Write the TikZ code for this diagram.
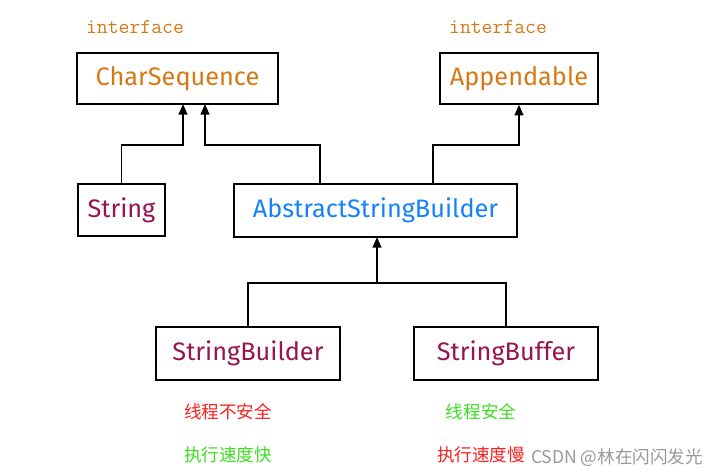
\documentclass[tikz,border=0pt]{standalone}
\usepackage{fontspec}
\setmainfont{Fira Sans}
\newfontfamily\cjk{Noto Sans CJK SC}
\usetikzlibrary{arrows.meta}
\definecolor{ifcolor}{RGB}{214,120,20}
\definecolor{clscolor}{RGB}{150,20,80}
\definecolor{abscolor}{RGB}{20,130,250}
\definecolor{badred}{RGB}{250,30,30}
\definecolor{goodgreen}{RGB}{60,220,30}
\begin{document}
\begin{tikzpicture}[x=0.02cm,y=-0.02cm,
  box/.style={draw=black, line width=0.9pt, inner sep=0pt, font=\Large},
  link/.style={line width=0.9pt},
  up/.style={link, -{Triangle[length=6pt,width=5pt]}},
  note/.style={font=\cjk\normalsize}]
\useasboundingbox (0,0) rectangle (724,476);
\node[text=ifcolor, font=\large\ttfamily] (if1) at (135,27) {interface};
\node[text=ifcolor, font=\large\ttfamily] (if2) at (498,27) {interface};
\node[box, text=ifcolor, minimum width=4.02cm, minimum height=1.02cm] (charseq) at (177.5,78.5) {CharSequence};
\node[box, text=ifcolor, minimum width=3.16cm, minimum height=1.02cm] (append) at (519,78.5) {Appendable};
\node[box, text=clscolor, minimum width=1.74cm, minimum height=1.04cm] (string) at (121.5,210) {String};
\node[box, text=abscolor, minimum width=5.66cm, minimum height=1.06cm] (asb) at (375.5,210.5) {AbstractStringBuilder};
\node[box, text=clscolor, minimum width=3.68cm, minimum height=1.06cm] (sbuilder) at (248,353.5) {StringBuilder};
\node[box, text=clscolor, minimum width=3.68cm, minimum height=1.06cm] (sbuffer) at (506,353.5) {StringBuffer};
% junction points
\coordinate (csl) at (183,104);
\coordinate (csr) at (205,104);
\coordinate (asbl) at (320,184);
\coordinate (asbr) at (433,184);
\coordinate (asbb) at (377,237);
\coordinate (bus) at (377,283);
% inheritance links
\draw[up] (string.north) |- (183,145) -- (csl);
\draw[up] (asbl) |- (205,145) -- (csr);
\draw[up] (asbr) |- (519,145) -- (append.south);
\draw[link] (sbuilder.north) |- (506,283) -- (sbuffer.north);
\draw[up] (bus) -- (asbb);
% notes
\node[note, badred] (n1) at (228,412) {线程不安全};
\node[note, goodgreen] (n2) at (228,455) {执行速度快};
\node[note, goodgreen] (n3) at (481,412) {线程安全};
\node[note, badred] (n4) at (481,455) {执行速度慢};
\node[font=\cjk\normalsize, gray!80] (mark) at (617,458) {CSDN @林在闪闪发光};
\end{tikzpicture}
\end{document}
